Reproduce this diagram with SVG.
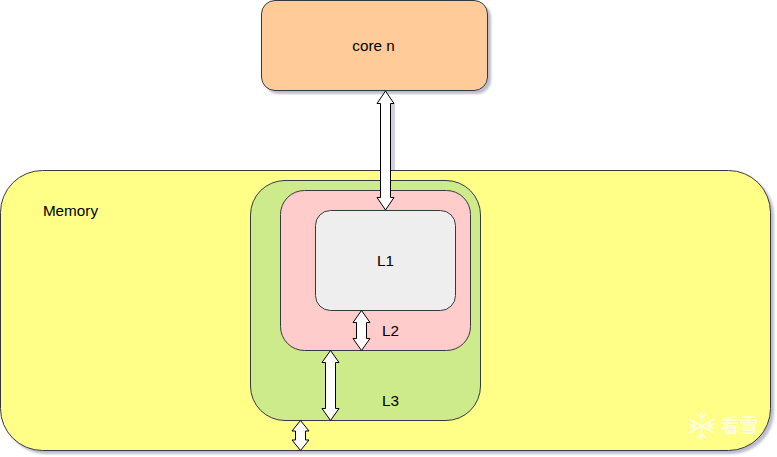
<svg xmlns="http://www.w3.org/2000/svg" width="777" height="457" viewBox="0 0 777 457">
<style>
.n{stroke:#36393d;stroke-width:1}
.sh{filter:url(#s)}
.a{fill:#fff;stroke:#000;stroke-width:1;stroke-linejoin:miter}
text{font-family:"Liberation Sans",Arial,sans-serif;font-size:15.300px;fill:#000;text-anchor:middle}
.w{stroke:#fff;stroke-width:1.800;fill:none}
</style>
<defs>
<filter id="s" x="-5%" y="-5%" width="110%" height="110%">
<feDropShadow dx="3" dy="3" stdDeviation="1.200" flood-color="#7a7aa0" flood-opacity=".5"/>
</filter>
</defs>
<rect width="777" height="457" fill="#fff"/>
<path d="M391 104H395V171H391Z" fill="#c4c4d8" opacity=".8"/>
<g id="core-n">
<rect class="n sh" x="261.500" y="0.500" width="226" height="90" rx="13.500" fill="#ffcc99"/>
<text x="373.500" y="51">core n</text>
</g>
<g id="memory">
<rect class="n sh" x="0.500" y="170.500" width="770" height="280" rx="42" fill="#ffff88"/>
<text x="70.500" y="216">Memory</text>
</g>
<g id="l3">
<rect class="n" x="250.500" y="180.500" width="230" height="240" rx="34.500" fill="#cdeb8b"/>
<text x="390.500" y="406">L3</text>
</g>
<g id="l2">
<rect class="n" x="280.500" y="190.500" width="190" height="160" rx="24" fill="#ffcccc"/>
<text x="390.500" y="336">L2</text>
</g>
<g id="l1">
<rect class="n" x="315.500" y="210.500" width="140" height="100" rx="15" fill="#eeeeee"/>
<text x="385.500" y="266">L1</text>
</g>
<g id="connectors">
<path class="a" d="M385.500 91L394 103.500H390.500V197.500H394L385.500 210L377 197.500H380.500V103.500H377Z"/>
<path class="a" d="M361.500 310.500L370 322.500H366.500V338.500H370L361.500 350.500L353 338.500H356.500V322.500H353Z"/>
<path class="a" d="M330.500 350.500L339 362.500H335.500V408.500H339L330.500 420.500L322 408.500H325.500V362.500H322Z"/>
<path class="a" d="M300.500 420.500L309 431H305.500V440H309L300.500 450.500L292 440H295.500V431H292Z"/>
</g>
<g id="watermark" opacity=".65">
<path class="w" d="M701.500 412V440M689 419L714 433M689 433L714 419M697 414L701.500 418L706 414M697 438L701.500 434L706 438M689 424L695 426L692 420M714 424L708 426L711 420M689 428L695 426L692 432M714 428L708 426L711 432"/>
<text x="739" y="433" style="font-family:'Noto Sans CJK SC',sans-serif;font-size:19px;fill:#fff;font-weight:700">看雪</text>
</g>
</svg>
